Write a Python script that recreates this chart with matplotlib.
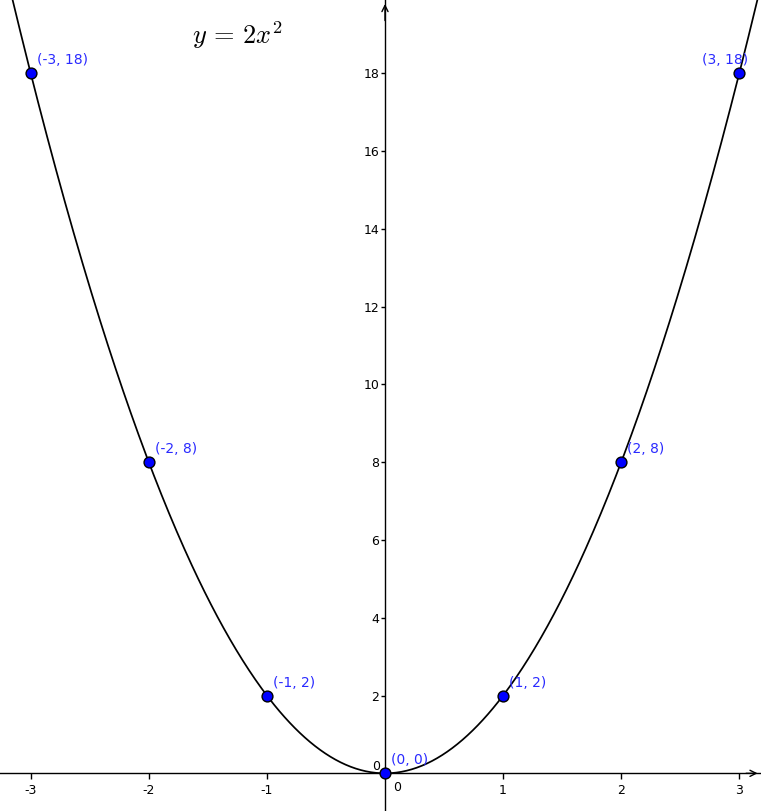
import numpy as np
import matplotlib.pyplot as plt

plt.rcParams['font.family'] = ['DejaVu Sans']
plt.rcParams['axes.unicode_minus'] = False

# function y = a * x^2
a = 2
point_x = [-3, -2, -1, 0, 1, 2, 3]
point_y = [18, 8, 2, 0, 2, 8, 18]
point_labels = ['(-3, 18)', '(-2, 8)', '(-1, 2)', '(0, 0)', '(1, 2)', '(2, 8)', '(3, 18)']

x_ticks = [-3, -2, -1, 1, 2, 3]
x_tick_labels = ['-3', '-2', '-1', '1', '2', '3']
y_ticks = [2, 4, 6, 8, 10, 12, 14, 16, 18]
y_tick_labels = ['2', '4', '6', '8', '10', '12', '14', '16', '18']

fig = plt.figure(figsize=(7.61, 8.11), dpi=100)
ax = fig.add_axes([0, 0, 1, 1])
xmin, xmax = -3.260, 3.184
ymin, ymax = -0.969, 19.885
ax.set_xlim(xmin, xmax)
ax.set_ylim(ymin, ymax)

# axes through the origin
for s in ['top', 'right']:
    ax.spines[s].set_visible(False)
ax.spines['left'].set_position(('data', 0))
ax.spines['bottom'].set_position(('data', 0))
ax.spines['left'].set_linewidth(1.0)
ax.spines['bottom'].set_linewidth(1.0)
ax.annotate('', xy=(xmax - 0.005, 0), xytext=(xmax - 0.15, 0),
            arrowprops=dict(arrowstyle='->', lw=1.0, color='k', mutation_scale=11))
ax.annotate('', xy=(0, ymax - 0.03), xytext=(0, ymax - 0.6),
            arrowprops=dict(arrowstyle='->', lw=1.0, color='k', mutation_scale=11))

ax.set_xticks(x_ticks)
ax.set_xticklabels(x_tick_labels)
ax.set_yticks(y_ticks)
ax.set_yticklabels(y_tick_labels)
ax.tick_params(axis='x', direction='out', length=4, width=1, pad=3.5, labelsize=9)
ax.tick_params(axis='y', direction='out', length=3, width=1, pad=1, labelsize=9)
ax.annotate('0', xy=(0, 0), xytext=(12, -14), textcoords='offset pixels',
            ha='center', va='center', fontsize=9)
ax.annotate('0', xy=(0, 0), xytext=(-9, 7), textcoords='offset pixels',
            ha='center', va='center', fontsize=9)

# curve
xs = np.linspace(xmin, xmax, 600)
ax.plot(xs, a * xs ** 2, color='k', lw=1.25, zorder=3)

ax.plot(point_x, point_y, 'o', ms=7.8, mfc='#0000ff', mec='k', mew=1.0,
        zorder=5, clip_on=False)

for px, py, lab in zip(point_x, point_y, point_labels):
    if px == 3:
        off, ha = (9, 6), 'right'
    else:
        off, ha = (6, 6), 'left'
    ax.annotate(lab, xy=(px, py), xytext=off, textcoords='offset pixels',
                ha=ha, va='bottom', fontsize=10, color='#2a2aff', zorder=6)

ax.text(-1.25, 18.98, r'$y \,=\, 2x^2$', fontsize=19, ha='center', va='center',
        math_fontfamily='cm')

fig.savefig('out.png', dpi=100)
